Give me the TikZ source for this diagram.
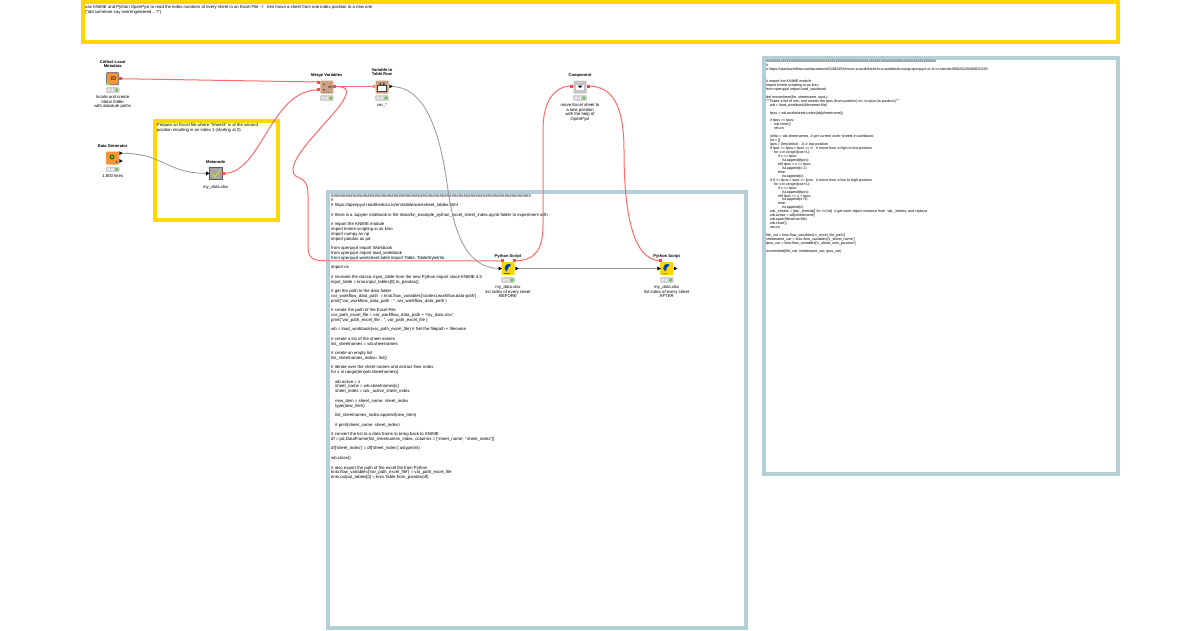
\documentclass[tikz,border=0pt]{standalone}
\usepackage{fontspec}
\setmainfont{Liberation Sans}
\usetikzlibrary{shapes.geometric,backgrounds}
\definecolor{noteyellow}{RGB}{255,216,0}
\definecolor{noteblue}{RGB}{180,207,214}
\definecolor{flowred}{RGB}{255,105,105}
\definecolor{datagrey}{RGB}{150,150,150}
\definecolor{portred}{RGB}{250,70,70}
\definecolor{iconorange}{RGB}{250,146,56}
\definecolor{iconbrown}{RGB}{206,160,130}
\definecolor{iconyellow}{RGB}{255,214,0}
\definecolor{icongrey}{RGB}{196,196,196}
\definecolor{barbg}{RGB}{208,208,208}
\definecolor{lightgreen}{RGB}{110,190,90}
\newcommand{\hashten}{\#\#\#\#\#\#\#\#\#\#}
\newcommand{\hashrow}{\hashten\hashten\hashten\hashten\hashten\hashten\hashten\hashten\#\#\#}
\newcommand{\tb}{\hspace{4pt}}
\tikzset{
  note/.style={draw=noteyellow,line width=4pt},
  codebox/.style={draw=noteblue,line width=4pt},
  notetext/.style={anchor=north west,inner sep=0pt,align=left,font=\fontsize{4.28}{4.9}\selectfont},
  codetext/.style={anchor=north west,inner sep=0pt,align=left,font=\fontsize{4.33}{4.77}\selectfont},
  smallcode/.style={anchor=north west,inner sep=0pt,align=left,font=\fontsize{3.68}{3.95}\selectfont},
  nodename/.style={anchor=north,inner sep=0pt,align=center,font=\fontsize{4.1}{4.8}\selectfont\bfseries},
  nodelabel/.style={anchor=north,inner sep=0pt,align=center,font=\fontsize{4.3}{4.8}\selectfont},
  icon/.style={minimum size=13pt,inner sep=0pt,rounded corners=0.8pt,fill=#1},
  dataport/.style={regular polygon,regular polygon sides=3,shape border rotate=-90,fill=black,inner sep=0pt,minimum size=4.5pt},
  flowport/.style={rectangle,fill=portred,inner sep=0pt,minimum size=3pt},
  openport/.style={circle,draw=portred,fill=white,line width=0.5pt,inner sep=0pt,minimum size=3pt},
  flow/.style={draw=flowred,line width=1pt},
  data/.style={draw=datagrey,line width=0.8pt},
}
\begin{document}
\begin{tikzpicture}[x=1pt,y=-1pt]%
  \useasboundingbox (0,0) rectangle (1200,630);

  % Workflow nodes.
  \node[icon=iconorange,draw=gray,line width=1pt,minimum size=12pt] (metadata) at (112.7,78.7) {};
  \node[icon=iconorange] (generator) at (112.7,158) {};
  \node[icon=gray!70,draw=black!65,line width=0.6pt,minimum size=12.5pt,rounded corners=0pt] (metanode) at (215.7,173.4) {};
  \node[icon=iconbrown] (merge) at (326.8,87) {};
  \node[icon=iconbrown] (vartable) at (382,87) {};
  \node[icon=icongrey] (component) at (580,87) {};
  \node[icon=iconyellow] (before) at (508,268.7) {};
  \node[icon=iconyellow] (after) at (666.7,268.7) {};

  % Icon glyphs.
  \node[inner sep=0pt,text=black!80,font=\fontsize{5.5}{5.5}\selectfont\bfseries] (metadataglyph) at (113.5,78.7) {iD};
  \fill[yellow!70!green] (106.8,84.6) -- (106.8,81) -- (110.4,84.6) -- cycle;
  \fill[green!45!black] (112,157) circle (2.4pt);
  \fill[iconorange!50!yellow] (112,157) circle (1.1pt);
  \fill[black!70] (115.5,161) rectangle (117,162.5);
  \draw[yellow!80!green,line width=1.1pt] (212,173.6) -- (214.8,177) -- (220,170);
  \fill[black!60] (323,83.5) rectangle (325,85) (323,89) rectangle (325,90.5) (328,86) rectangle (332,87.5);
  \foreach \x in {323,325.5,328}
  \fill[black!55] (\x,91.5) rectangle (\x+1.3,92.8);
  \draw[black!75,line width=0.6pt,fill=white] (377.5,85.5) rectangle (386.5,91);
  \fill[black!75] (379.5,82.5) rectangle (381,85.5) (383,82.5) rectangle (384.5,85.5);
  \fill[white] (576,84.5) rectangle (584,89.5);
  \fill[blue!30!black] (577.5,85.5) -- (582.5,85.5) -- (580,88) -- cycle;
  \foreach \x in {508,666.7} {
    \fill[blue!60!cyan!70!black] (\x-3.5,268.7) .. controls (\x-3.5,263.5) and (\x+2,263) .. (\x+3,265) -- (\x,268) -- (\x-1,272) -- cycle;
    \fill[iconorange!40!yellow] (\x+3.5,268.7) .. controls (\x+3.5,273) and (\x-1,274) .. (\x-2,272) -- (\x+1,269) -- (\x+2,266) -- cycle;
  }
  \foreach \x in {-4,-2,0}
  \fill[black!70] (\x+666.7,273.6) circle (0.5pt);
  \fill[black!60] (503.5,273) rectangle (510,274);

  % Status lights.
  \foreach \nx/\ny in {112.7/90,112.7/169.4,326.8/98,382/98,580/98,508/280,666.7/280} {
    \fill[barbg,rounded corners=1pt] (\nx-6.8,\ny-2.8) rectangle (\nx+6.8,\ny+2.8);
    \foreach \dx in {-4,0}
    \fill[white!92!black] (\nx+\dx,\ny) circle (1.7pt);
    \fill[lightgreen] (\nx+4,\ny) circle (1.8pt);
  }

  % Names and labels.
  \node[nodename] (metadataname) at (112.7,60) {Collect Local\\Metadata};
  \node[nodelabel] (metadatalabel) at (112.7,95) {locate and create\\/data/ folder\\with absolute paths};
  \node[nodename] (generatorname) at (112.7,144) {Data Generator};
  \node[nodelabel] (generatorlabel) at (112.7,174) {1.800 lines};
  \node[nodename] (metanodename) at (215.7,160) {Metanode};
  \node[nodelabel] (metanodelabel) at (215.7,185) {my\_data.xlsx};
  \node[nodename] (mergename) at (326.8,73) {Merge Variables};
  \node[nodename] (vartablename) at (382,68) {Variable to\\Table Row};
  \node[nodelabel] (vartablelabel) at (382,103) {var\_*};
  \node[nodename] (componentname) at (580,73) {Component};
  \node[nodelabel] (componentlabel) at (580,103) {move Excel sheet to\\a new position\\with the help of\\OpenPyxl};
  \node[nodename] (beforename) at (508,254.7) {Python Script};
  \node[nodelabel] (beforelabel) at (508,285) {my\_data.xlsx\\list index of every sheet\\BEFORE};
  \node[nodename] (aftername) at (666.7,254.7) {Python Script};
  \node[nodelabel] (afterlabel) at (666.7,285) {my\_data.xlsx\\list index of every sheet\\AFTER};

  % Ports.
  \node[flowport] (metadataout) at (120.7,78.7) {};
  \node[dataport] (generatorouta) at (120.5,153.2) {};
  \node[dataport] (generatoroutb) at (120.5,161) {};
  \node[dataport] (metanodein) at (207.3,173.4) {};
  \node[flowport] (metanodeout) at (223.7,173.4) {};
  \node[flowport] (mergeina) at (318.6,82) {};
  \node[flowport] (mergeinb) at (318.6,89.8) {};
  \node[flowport] (mergeout) at (334.5,86.4) {};
  \node[openport] (vartablein) at (373.8,86.4) {};
  \node[dataport] (vartableout) at (390.4,86.4) {};
  \node[flowport] (componentin) at (571.8,86) {};
  \node[flowport] (componentout) at (588,86) {};
  \node[flowport] (beforeina) at (502.4,260.8) {};
  \node[flowport] (beforeout) at (514.3,260.8) {};
  \node[dataport] (beforein) at (499.8,268.5) {};
  \node[dataport] (beforedata) at (516.4,268.5) {};
  \node[flowport] (afterin) at (660.7,260.8) {};
  \node[dataport] (afterdata) at (658.6,268.5) {};
  \node[dataport] (afterout) at (675,268.5) {};

  \begin{scope}[on background layer]
  % Annotations.
  \draw[note] (83,2) rectangle (1117.5,42);
  \draw[note] (154.5,120.5) rectangle (277.5,220);
  \draw[codebox] (328,192) rectangle (745.5,628);
  \draw[codebox] (764,57.5) rectangle (1117.5,473.5);
  \node[notetext] (titlenote) at (85,5) {use KNIME and Python OpenPyxl to read the index numbers of every sheet in an Excel File - t\ \ \ hen move a sheet from one index position to a new one\\("did someone say overengineered ...?")};
  \node[notetext] (sheetnote) at (156.7,123) {Prepare an Excel file where "Sheet3" is at the second\\position resulting in an index 1 (starting at 0)};
  \node[codetext] (beforecode) at (331,194) {\hashrow\\
    \#\\
    \# https://openpyxl.readthedocs.io/en/stable/worksheet\_tables.html\\
    ~\\
    \# there is a Jupyter notebook in the /data/kn\_example\_python\_excel\_sheet\_index.ipynb folder to experiment with\\
    ~\\
    \# import the KNIME module\\
    import knime.scripting.io as knio\\
    import numpy as np\\
    import pandas as pd\\
    ~\\
    from openpyxl import Workbook\\
    from openpyxl import load\_workbook\\
    from openpyxl.worksheet.table import Table, TableStyleInfo\\
    ~\\
    import os\\
    ~\\
    \# recreate the classic input\_table from the new Python import since KNIME 4.5\\
    input\_table = knio.input\_tables[0].to\_pandas()\\
    ~\\
    \# get the path to the data folder\\
    var\_workflow\_data\_path \ = knio.flow\_variables['context.workflow.data-path']\\
    print("var\_workflow\_data\_path : ", var\_workflow\_data\_path )\\
    ~\\
    \# create the path of the Excel File\\
    var\_path\_excel\_file = var\_workflow\_data\_path + "my\_data.xlsx"\\
    print("var\_path\_excel\_file : ", var\_path\_excel\_file )\\
    ~\\
    wb = load\_workbook(var\_path\_excel\_file) \# Set the filepath + filename\\
    ~\\
    \# create a list of the sheet names\\
    list\_sheetnames = wb.sheetnames\\
    ~\\
    \# create an empty list\\
    list\_sheetnames\_index= list()\\
    ~\\
    \# iterate over the sheet names and extract their index\\
    for s in range(len(wb.sheetnames)):\\
    ~\\
    \tb wb.active = s\\
    \tb sheet\_name = wb.sheetnames[s]\\
    \tb sheet\_index = wb.\_active\_sheet\_index\\
    ~\\
    \tb new\_item = sheet\_name, sheet\_index\\
    \tb type(new\_item)\\
    ~\\
    \tb list\_sheetnames\_index.append(new\_item)\\
    ~\\
    \tb \# print(sheet\_name, sheet\_index)\\
    ~\\
    \# convert the list to a data frame to bring back to KNIME\\
    df = pd.DataFrame(list\_sheetnames\_index, columns = ['sheet\_name', "sheet\_index"])\\
    ~\\
    df['sheet\_index'] = df['sheet\_index'].astype(int)\\
    ~\\
    wb.close()\\
    ~\\
    \# also export the path of the excel file from Python\\
    knio.flow\_variables['var\_path\_excel\_file'] = var\_path\_excel\_file\\
    knio.output\_tables[0] = knio.Table.from\_pandas(df)};
  \node[smallcode] (movecode) at (766,60) {\hashrow\\
    \#\\
    \# https://stackoverflow.com/questions/51082458/move-a-worksheet-in-a-workbook-using-openpyxl-or-xl-or-xlwriter/60620228\#60620228\\
    ~\\
    ~\\
    \# import the KNIME module\\
    import knime.scripting.io as knio\\
    from openpyxl import load\_workbook\\
    ~\\
    def movesheet(file, sheetname, tpos):\\
    """Takes a list of ints, and inserts the fpos (from position) int, to tpos (to position)"""\\
    \tb wb = load\_workbook(filename=file)\\
    ~\\
    \tb fpos = wb.worksheets.index(wb[sheetname])\\
    ~\\
    \tb if fpos == tpos:\\
    \tb\tb wb.close()\\
    \tb\tb return\\
    ~\\
    \tb shlist = wb.sheetnames \ \# get current order sheets in workbook\\
    \tb lst = []\\
    \tb lpos = (len(shlist) - 1) \# last position\\
    \tb if lpos >= fpos > tpos >= 0: \ \# move from a high to low position\\
    \tb\tb for x in range(lpos+1):\\
    \tb\tb\tb if x == tpos:\\
    \tb\tb\tb\tb lst.append(fpos)\\
    \tb\tb\tb elif tpos < x <= fpos:\\
    \tb\tb\tb\tb lst.append(x-1)\\
    \tb\tb\tb else:\\
    \tb\tb\tb\tb lst.append(x)\\
    \tb if 0 <= fpos < tpos <= lpos: \ \# move from a low to high position\\
    \tb\tb for x in range(lpos+1):\\
    \tb\tb\tb if x == tpos:\\
    \tb\tb\tb\tb lst.append(fpos)\\
    \tb\tb\tb elif fpos <= x < tpos:\\
    \tb\tb\tb\tb lst.append(x+1)\\
    \tb\tb\tb else:\\
    \tb\tb\tb\tb lst.append(x)\\
    \tb wb.\_sheets = [wb.\_sheets[i] for i in lst] \ \# get each object instance from \ wb.\_sheets, and replace\\
    \tb wb.active = wb[sheetname]\\
    \tb wb.save(filename=file)\\
    \tb wb.close()\\
    \tb return\\
    ~\\
    file\_var = knio.flow\_variables['v\_excel\_file\_path']\\
    sheetname\_var = knio.flow\_variables['v\_sheet\_name']\\
    tpos\_var = knio.flow\_variables['v\_sheet\_new\_position']\\
    ~\\
    movesheet(file\_var, sheetname\_var, tpos\_var)};

  % Connectors.
  \draw[flow] (metadataout.center) -- (mergeina.center);
  \draw[flow] (metanodeout.center) .. controls (262,173.4) and (270,89.8) .. (mergeinb.center);
  \draw[flow] (mergeout.center) -- (vartablein.center);
  \draw[flow] (mergeout.center) .. controls (350,86.4) and (350,92) .. (338,108) .. controls (320,130) and (293,155) .. (293,170) .. controls (293,182) and (308,172) .. (308,195) -- (308,245) .. controls (308,258) and (312,260.8) .. (325,260.8) -- (beforeina.center);
  \draw[flow] (beforeout.center) .. controls (535,260.8) and (543,250) .. (543,225) -- (543,130) .. controls (543,100) and (555,86) .. (componentin.center);
  \draw[flow] (componentout.center) .. controls (612,86) and (624,105) .. (624,150) .. controls (624,210) and (632,260.8) .. (afterin.center);
  \draw[data] (generatorouta.center) .. controls (165,153.2) and (165,173.4) .. (metanodein.center);
  \draw[data] (vartableout.center) .. controls (425,86.4) and (440,130) .. (448,190) .. controls (455,240) and (470,268.5) .. (beforein.center);
  \draw[data] (beforedata.center) -- (afterdata.center);
  \end{scope}
\end{tikzpicture}
\end{document}
